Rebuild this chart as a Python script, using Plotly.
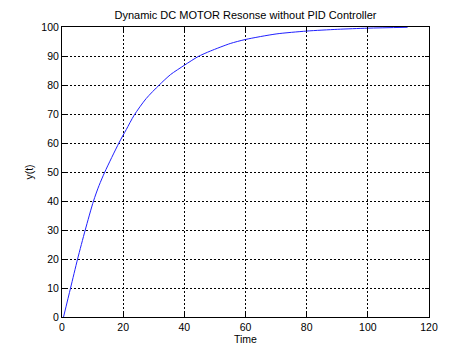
import plotly.graph_objects as go

# Values
time_values = [0.5, 2.8, 5.1, 7.6, 10.3, 12.1, 14.0, 18.6, 21.0, 23.6, 27.5, 31.8, 35.5, 40, 44.5, 48.5, 55, 60, 70, 80, 90, 100, 113]
response_values = [0, 10, 20, 30, 40, 45.3, 50, 60, 64.6, 69.6, 75.3, 80, 83.6, 86.8, 89.8, 91.7, 94.3, 95.7, 97.6, 98.6, 99.2, 99.6, 99.9]

x_ticks = [0, 20, 40, 60, 80, 100, 120]
y_ticks = [0, 10, 20, 30, 40, 50, 60, 70, 80, 90, 100]

title_text = "Dynamic DC MOTOR Resonse without PID Controller"
x_label = "Time"
y_label = "y(t)"

fig = go.Figure()
fig.add_trace(go.Scatter(
    x=time_values, y=response_values, mode="lines",
    line=dict(color="#2020ff", width=1, shape="spline", smoothing=0.7),
    showlegend=False, hoverinfo="skip",
))

font_family = "Liberation Sans, Arial, sans-serif"
axis_common = dict(
    showline=True, linecolor="black", linewidth=1, mirror="ticks",
    ticks="inside", ticklen=4, tickcolor="black",
    showgrid=True, gridcolor="black", gridwidth=1, griddash="2px,2px",
    zeroline=False, automargin=False,
    tickfont=dict(family=font_family, size=10.5, color="black"),
)

# The page body adds an 8px offset, so the figure is sized/margined to compensate
fig_w, fig_h = 466, 347
fig.update_layout(
    width=fig_w, height=fig_h,
    margin=dict(l=54, r=45, t=19, b=38),
    paper_bgcolor="white", plot_bgcolor="white",
    title=dict(text=title_text, x=0.5, xanchor="center", xref="paper",
               y=1 - 7 / fig_h, yanchor="middle", yref="container", automargin=False,
               font=dict(family=font_family, size=11, color="black")),
    xaxis=dict(range=[0, 120], tickvals=x_ticks, **axis_common,
               title=dict(text=x_label, standoff=4, font=dict(family=font_family, size=10.5, color="black"))),
    yaxis=dict(range=[0, 100], tickvals=y_ticks, **axis_common,
               title=dict(text=y_label, standoff=5, font=dict(family=font_family, size=10.5, color="black"))),
)

fig.write_html("out.html")
